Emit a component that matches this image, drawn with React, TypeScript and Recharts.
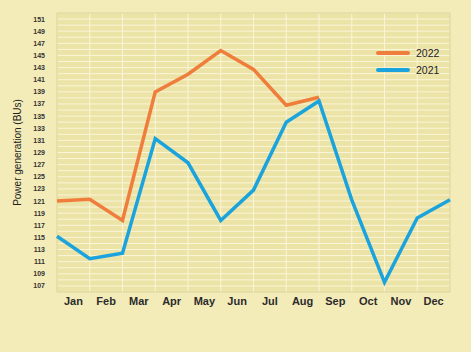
import React from 'react';
import { LineChart, Line, XAxis, YAxis, CartesianGrid, Legend, ReferenceArea } from 'recharts';

const months = ['Jan', 'Feb', 'Mar', 'Apr', 'May', 'Jun', 'Jul', 'Aug', 'Sep', 'Oct', 'Nov', 'Dec'];
const gen2022: (number | null)[] = [121.0, 121.3, 117.8, 139.0, 141.9, 145.8, 142.7, 136.8, 138.1, null, null, null, null];
const gen2021: number[] = [115.2, 111.5, 112.4, 131.3, 127.3, 117.8, 122.8, 134.0, 137.5, 121.2, 107.6, 118.2, 121.2];
const yTicks = [107, 109, 111, 113, 115, 117, 119, 121, 123, 125, 127, 129, 131, 133, 135, 137, 139, 141, 143, 145, 147, 149, 151];
const yDomain: [number, number] = [106, 152];
const seriesOrder = ['2022', '2021'];

const data = gen2021.map((v, i) => ({ idx: i, y2022: gen2022[i], y2021: v }));
const xTicks = months.map((_, i) => i + 0.5);
const vGrid = gen2021.map((_, i) => i);
const hGrid: number[] = [];
for (let v = yDomain[0]; v <= yDomain[1]; v += 1) hGrid.push(v);

const FONT = "'Liberation Sans Narrow', 'Arial Narrow', 'Liberation Sans', Arial, sans-serif";

const LegendContent = (props: any) => {
  const payload = [...(props.payload || [])].sort(
    (a: any, b: any) => seriesOrder.indexOf(String(a.value)) - seriesOrder.indexOf(String(b.value))
  );
  return (
    <div style={{ fontFamily: FONT, fontSize: 10.5, color: '#222' }}>
      {payload.map((p: any) => (
        <div key={p.value} style={{ display: 'flex', alignItems: 'center', height: 16.5 }}>
          <svg width={34} height={8} style={{ display: 'block' }}>
            <line x1={2} y1={4} x2={32} y2={4} stroke={p.color} strokeWidth={4} strokeLinecap="round" />
          </svg>
          <span style={{ marginLeft: 6 }}>{p.value}</span>
        </div>
      ))}
    </div>
  );
};

export default function App() {
  return (
    <div style={{ position: 'absolute', left: 0, top: 0, width: 474, height: 355, background: '#ffffff' }}>
      <LineChart
        width={471}
        height={352}
        data={data}
        margin={{ top: 13, right: 21, bottom: 0, left: 10 }}
        style={{ background: '#f3ecb8' }}
      >
        <CartesianGrid
          fill="#ece3a6"
          stroke="#faf5da"
          strokeWidth={1}
          verticalValues={vGrid}
          horizontalValues={hGrid}
        />
        <XAxis
          dataKey="idx"
          type="number"
          domain={[0, 12]}
          ticks={xTicks}
          tickFormatter={(v: number) => months[Math.floor(v)]}
          axisLine={false}
          tickLine={false}
          tickSize={6}
          tickMargin={-1}
          height={27}
          interval={0}
          tick={{ fontFamily: FONT, fontSize: 11, fontWeight: 'bold', fill: '#2b2b2b' }}
        />
        <YAxis
          type="number"
          domain={yDomain}
          ticks={yTicks}
          interval={0}
          axisLine={false}
          tickLine={false}
          tickSize={6}
          tickMargin={6}
          width={47}
          tick={{ fontFamily: FONT, fontSize: 7, fontWeight: 'bold', fill: '#333' }}
          label={{
            content: (p: any) => {
              const vb = p.viewBox || { x: 10, y: 13, width: 47, height: 312 };
              const cx = vb.x + 7;
              const cy = vb.y + vb.height / 2;
              return (
                <text
                  x={cx}
                  y={cy}
                  transform={`rotate(-90, ${cx}, ${cy})`}
                  textAnchor="middle"
                  dominantBaseline="central"
                  style={{ fontFamily: FONT, fontSize: 10, fill: '#222' }}
                >
                  Power generation (BUs)
                </text>
              );
            },
          }}
        />
        <ReferenceArea x1={0} x2={12} y1={yDomain[0]} y2={yDomain[1]} fill="none" stroke="#d8cf8c" strokeWidth={1} ifOverflow="visible" />
        <Line type="linear" dataKey="y2022" name="2022" stroke="#ef7d3c" strokeWidth={3.5} dot={false} activeDot={false} isAnimationActive={false} connectNulls={false} />
        <Line type="linear" dataKey="y2021" name="2021" stroke="#1ba3dd" strokeWidth={3.5} dot={false} activeDot={false} isAnimationActive={false} />
        <Legend
          content={<LegendContent />}
          wrapperStyle={{ position: 'absolute', left: 376, top: 45, width: 'auto' }}
        />
      </LineChart>
    </div>
  );
}
